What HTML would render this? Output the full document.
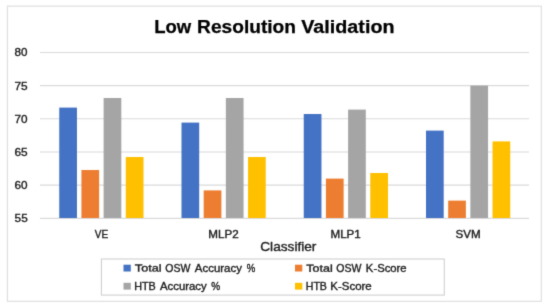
<!DOCTYPE html>
<html><head><meta charset="utf-8"><title>Low Resolution Validation</title>
<style>html,body{margin:0;padding:0;background:#fff}svg{display:block}text{font-family:"Liberation Sans",sans-serif}</style></head>
<body>
<svg width="550" height="307" viewBox="0 0 550 307">
<defs><filter id="soft" filterUnits="userSpaceOnUse" x="0" y="0" width="550" height="307" color-interpolation-filters="sRGB"><feConvolveMatrix order="3" kernelMatrix="1 6 1 6 36 6 1 6 1" divisor="64" edgeMode="duplicate" preserveAlpha="true"/></filter></defs>
<g filter="url(#soft)">
<rect x="0" y="0" width="550" height="307" fill="#fff"/>
<rect x="7.45" y="6.15" width="533.85" height="295.15" fill="#fff" stroke="#dfdfdf" stroke-width="1.2"/>
<line x1="40.0" y1="52.50" x2="529.0" y2="52.50" stroke="#dadada" stroke-width="1.1"/>
<line x1="40.0" y1="85.66" x2="529.0" y2="85.66" stroke="#dadada" stroke-width="1.1"/>
<line x1="40.0" y1="118.82" x2="529.0" y2="118.82" stroke="#dadada" stroke-width="1.1"/>
<line x1="40.0" y1="151.98" x2="529.0" y2="151.98" stroke="#dadada" stroke-width="1.1"/>
<line x1="40.0" y1="185.14" x2="529.0" y2="185.14" stroke="#dadada" stroke-width="1.1"/>
<line x1="40.0" y1="218.40" x2="529.0" y2="218.40" stroke="#dadada" stroke-width="1.1"/>
<rect x="59.25" y="107.60" width="17.7" height="110.40" fill="#4472C4"/>
<rect x="81.43" y="170.00" width="17.7" height="48.00" fill="#ED7D31"/>
<rect x="103.61" y="98.00" width="17.7" height="120.00" fill="#A5A5A5"/>
<rect x="125.79" y="157.00" width="17.7" height="61.00" fill="#FFC000"/>
<rect x="181.50" y="122.60" width="17.7" height="95.40" fill="#4472C4"/>
<rect x="203.68" y="190.40" width="17.7" height="27.60" fill="#ED7D31"/>
<rect x="225.86" y="98.00" width="17.7" height="120.00" fill="#A5A5A5"/>
<rect x="248.04" y="157.00" width="17.7" height="61.00" fill="#FFC000"/>
<rect x="303.75" y="114.00" width="17.7" height="104.00" fill="#4472C4"/>
<rect x="325.93" y="178.60" width="17.7" height="39.40" fill="#ED7D31"/>
<rect x="348.11" y="109.60" width="17.7" height="108.40" fill="#A5A5A5"/>
<rect x="370.29" y="173.00" width="17.7" height="45.00" fill="#FFC000"/>
<rect x="426.00" y="130.60" width="17.7" height="87.40" fill="#4472C4"/>
<rect x="448.18" y="200.60" width="17.7" height="17.40" fill="#ED7D31"/>
<rect x="470.36" y="85.60" width="17.7" height="132.40" fill="#A5A5A5"/>
<rect x="492.54" y="141.40" width="17.7" height="76.60" fill="#FFC000"/>
<rect x="101.45" y="259" width="342.85" height="36.1" fill="#fff" stroke="#d0d0d0" stroke-width="1.1"/>
<rect x="123.5" y="264.7" width="7.3" height="6.8" fill="#4472C4"/>
<rect x="295.0" y="264.7" width="7.3" height="6.8" fill="#ED7D31"/>
<rect x="123.5" y="282.8" width="7.3" height="6.8" fill="#A5A5A5"/>
<rect x="295.0" y="282.8" width="7.3" height="6.8" fill="#FFC000"/>
<g transform="matrix(1,0.0004,0,1,0,-0.1)">
<text x="14.63" y="56.45" font-size="10.7" fill="#202020" stroke="#202020" stroke-width="0.35" textLength="12.90" lengthAdjust="spacingAndGlyphs">80</text>
<text x="14.50" y="89.61" font-size="10.7" fill="#202020" stroke="#202020" stroke-width="0.35" textLength="13.17" lengthAdjust="spacingAndGlyphs">75</text>
<text x="14.50" y="122.77" font-size="10.7" fill="#202020" stroke="#202020" stroke-width="0.35" textLength="13.03" lengthAdjust="spacingAndGlyphs">70</text>
<text x="14.50" y="155.93" font-size="10.7" fill="#202020" stroke="#202020" stroke-width="0.35" textLength="13.17" lengthAdjust="spacingAndGlyphs">65</text>
<text x="14.50" y="189.09" font-size="10.7" fill="#202020" stroke="#202020" stroke-width="0.35" textLength="13.03" lengthAdjust="spacingAndGlyphs">60</text>
<text x="14.63" y="222.25" font-size="10.7" fill="#202020" stroke="#202020" stroke-width="0.35" textLength="13.03" lengthAdjust="spacingAndGlyphs">55</text>
<text x="94.75" y="237.90" font-size="10.0" fill="#202020" stroke="#202020" stroke-width="0.35" textLength="13.38" lengthAdjust="spacingAndGlyphs">VE</text>
<text x="208.37" y="237.90" font-size="10.0" fill="#202020" stroke="#202020" stroke-width="0.35" textLength="30.30" lengthAdjust="spacingAndGlyphs">MLP2</text>
<text x="330.50" y="237.90" font-size="10.0" fill="#202020" stroke="#202020" stroke-width="0.35" textLength="30.29" lengthAdjust="spacingAndGlyphs">MLP1</text>
<text x="455.62" y="237.90" font-size="10.0" fill="#202020" stroke="#202020" stroke-width="0.35" textLength="25.17" lengthAdjust="spacingAndGlyphs">SVM</text>
<text x="260.25" y="250.50" font-size="12.8" fill="#202020" stroke="#202020" stroke-width="0.35" textLength="56.13" lengthAdjust="spacingAndGlyphs">Classifier</text>
<text y="32.90" font-size="18" font-weight="bold" fill="#000" stroke="#000" stroke-width="0.25"><tspan x="154.25" textLength="37.02" lengthAdjust="spacingAndGlyphs">Low</tspan> <tspan x="197.13" textLength="98.80" lengthAdjust="spacingAndGlyphs">Resolution</tspan> <tspan x="301.25" textLength="93.26" lengthAdjust="spacingAndGlyphs">Validation</tspan></text>
<text y="271.65" font-size="10.2" fill="#202020" stroke="#202020" stroke-width="0.35"><tspan x="134.88" textLength="26.77" lengthAdjust="spacingAndGlyphs">Total</tspan> <tspan x="165.25" textLength="25.13" lengthAdjust="spacingAndGlyphs">OSW</tspan> <tspan x="194.87" textLength="47.00" lengthAdjust="spacingAndGlyphs">Accuracy</tspan> <tspan x="246.75" textLength="8.52" lengthAdjust="spacingAndGlyphs">%</tspan></text>
<text y="271.65" font-size="10.2" fill="#202020" stroke="#202020" stroke-width="0.35"><tspan x="306.37" textLength="26.39" lengthAdjust="spacingAndGlyphs">Total</tspan> <tspan x="336.37" textLength="25.13" lengthAdjust="spacingAndGlyphs">OSW</tspan> <tspan x="365.88" textLength="40.78" lengthAdjust="spacingAndGlyphs">K-Score</tspan></text>
<text y="289.65" font-size="10.2" fill="#202020" stroke="#202020" stroke-width="0.35"><tspan x="134.25" textLength="21.56" lengthAdjust="spacingAndGlyphs">HTB</tspan> <tspan x="160.00" textLength="46.75" lengthAdjust="spacingAndGlyphs">Accuracy</tspan> <tspan x="211.37" textLength="8.89" lengthAdjust="spacingAndGlyphs">%</tspan></text>
<text y="289.65" font-size="10.2" fill="#202020" stroke="#202020" stroke-width="0.35"><tspan x="305.75" textLength="21.18" lengthAdjust="spacingAndGlyphs">HTB</tspan> <tspan x="330.25" textLength="41.53" lengthAdjust="spacingAndGlyphs">K-Score</tspan></text>
</g>
</g>
</svg>
</body></html>
